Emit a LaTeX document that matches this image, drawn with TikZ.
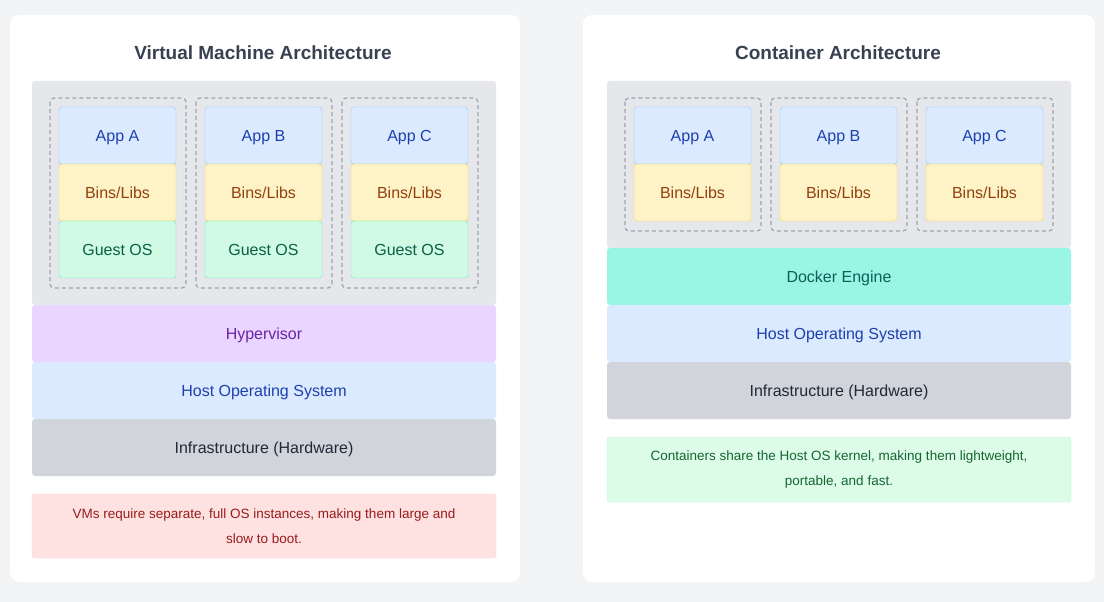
\documentclass[tikz,border=0pt]{standalone}
\usepackage{fontspec}
\setmainfont{Liberation Sans}
\usetikzlibrary{positioning}
\definecolor{pagebg}{HTML}{F3F4F6}
\definecolor{zone}{HTML}{E5E7EB}
\definecolor{appfill}{HTML}{DBEAFE}\definecolor{appline}{HTML}{93C5FD}\definecolor{apptext}{HTML}{1E40AF}
\definecolor{libfill}{HTML}{FEF3C7}\definecolor{libline}{HTML}{FCD34D}\definecolor{libtext}{HTML}{92400E}
\definecolor{osfill}{HTML}{D1FAE5}\definecolor{osline}{HTML}{6EE7B7}\definecolor{ostext}{HTML}{065F46}
\definecolor{hypfill}{HTML}{E9D5FF}\definecolor{hyptext}{HTML}{6B21A8}
\definecolor{hwfill}{HTML}{D1D5DB}\definecolor{hwtext}{HTML}{1F2937}
\definecolor{dockfill}{HTML}{99F6E4}\definecolor{docktext}{HTML}{115E59}
\definecolor{badfill}{HTML}{FEE2E2}\definecolor{badline}{HTML}{FECACA}\definecolor{badtext}{HTML}{991B1B}
\definecolor{goodfill}{HTML}{DCFCE7}\definecolor{goodline}{HTML}{BBF7D0}\definecolor{goodtext}{HTML}{166534}
\definecolor{titletext}{HTML}{374151}
\definecolor{dashline}{HTML}{9CA3AF}
\begin{document}
\begin{tikzpicture}[x=1pt,y=-1pt,
  every node/.style={inner sep=0pt,outer sep=0pt},
  card/.style={fill=white,rounded corners=9pt},
  title/.style={font=\fontsize{19}{22}\selectfont\bfseries,text=titletext},
  cell/.style={draw,rounded corners=3pt,minimum width=117pt,minimum height=57pt,text height=14pt,text depth=2pt,font=\fontsize{16}{19}\selectfont},
  app/.style={cell,fill=appfill,draw=appline,text=apptext},
  libs/.style={cell,fill=libfill,draw=libline,text=libtext},
  guest/.style={cell,fill=osfill,draw=osline,text=ostext},
  layer/.style={rounded corners=3pt,minimum width=464pt,minimum height=57pt,text height=14pt,text depth=2pt,font=\fontsize{16}{19}\selectfont},
  note/.style={draw,rounded corners=3pt,minimum width=464pt,align=center,font=\fontsize{13.5}{25}\selectfont},
  box/.style={draw=dashline,dashed,line width=1.2pt,dash pattern=on 4pt off 3pt,rounded corners=4pt}]
\useasboundingbox[fill=pagebg] (0,0) rectangle (1104,602);
% Karten
\fill[card] (10,15) rectangle (520,582);
\fill[card] (583,15) rectangle (1095,582);
\node[title] (vmtitle) at (263,53) {Virtual Machine Architecture};
\node[title] (cttitle) at (838,53) {Container Architecture};
% VM Seite
\fill[zone,rounded corners=3pt] (32,81) rectangle (496,305);
\foreach \x/\n in {50/A,196/B,342/C}{
  \draw[box] (\x,98) rectangle (\x+136,288);
  \node[app] (vmapp\n) at (\x+67.5,135.5) {App \n};
  \node[libs,below=0pt of vmapp\n] (vmlib\n) {Bins/Libs};
  \node[guest,below=0pt of vmlib\n] (vmos\n) {Guest OS};
}
\node[layer,fill=hypfill,text=hyptext] (hyper) at (264,333.5) {Hypervisor};
\node[layer,fill=appfill,text=apptext,below=0pt of hyper] (vmhost) {Host Operating System};
\node[layer,fill=hwfill,text=hwtext,below=0pt of vmhost] (vmhw) {Infrastructure (Hardware)};
\node[note,fill=badfill,draw=badline,text=badtext,minimum height=64pt] (vmnote) at (264,526) {VMs require separate, full OS instances, making them large and\\slow to boot.};
% Container Seite
\fill[zone,rounded corners=3pt] (607,81) rectangle (1071,248);
\foreach \x/\n in {625/A,771/B,917/C}{
  \draw[box] (\x,98) rectangle (\x+136,231);
  \node[app] (ctapp\n) at (\x+67.5,135.5) {App \n};
  \node[libs,below=0pt of ctapp\n] (ctlib\n) {Bins/Libs};
}
\node[layer,fill=dockfill,text=docktext] (docker) at (839,276.5) {Docker Engine};
\node[layer,fill=appfill,text=apptext,below=0pt of docker] (cthost) {Host Operating System};
\node[layer,fill=hwfill,text=hwtext,below=0pt of cthost] (cthw) {Infrastructure (Hardware)};
\node[note,fill=goodfill,draw=goodline,text=goodtext,minimum height=65pt] (ctnote) at (839,469.5) {Containers share the Host OS kernel, making them lightweight,\\portable, and fast.};
\end{tikzpicture}
\end{document}
